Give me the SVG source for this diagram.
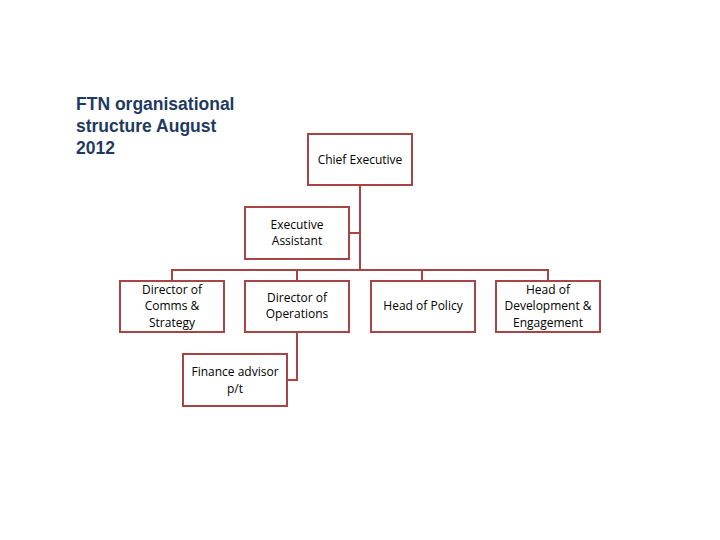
<svg xmlns="http://www.w3.org/2000/svg" width="720" height="540" viewBox="0 0 720 540">
<style>
.b{fill:#fff;stroke:#a94444;stroke-width:2}
.t{font-family:"Open Sans","Liberation Sans",sans-serif;font-size:12px;fill:#000;text-anchor:middle}
.c{fill:none;stroke:#a94444;stroke-width:2}
.h{font-family:"Liberation Sans",sans-serif;font-size:17.5px;font-weight:bold;fill:#1f3a60}
</style>
<rect width="720" height="540" fill="#fff"/>
<text class="h" x="76" y="110">FTN organisational</text>
<text class="h" x="76" y="132">structure August</text>
<text class="h" x="76" y="154">2012</text>
<g id="connectors">
<path class="c" d="M360 185V270M349 233H360M172 281V270H548V281M297 270V281M422 270V281M297 332V380H287"/>
</g>
<g id="ceo"><rect class="b" x="308" y="134" width="104" height="51"/><text class="t" x="360" y="164">Chief Executive</text></g>
<g id="ea"><rect class="b" x="245" y="207" width="104" height="52"/><text class="t" x="297" y="229">Executive</text><text class="t" x="297" y="245">Assistant</text></g>
<g id="comms"><rect class="b" x="120" y="281" width="104" height="51"/><text class="t" x="172" y="294">Director of</text><text class="t" x="172" y="310">Comms &amp;</text><text class="t" x="172" y="327">Strategy</text></g>
<g id="ops"><rect class="b" x="245" y="281" width="104" height="51"/><text class="t" x="297" y="302">Director of</text><text class="t" x="297" y="318">Operations</text></g>
<g id="policy"><rect class="b" x="371" y="281" width="104" height="51"/><text class="t" x="423" y="310">Head of Policy</text></g>
<g id="dev"><rect class="b" x="496" y="281" width="104" height="51"/><text class="t" x="548" y="294">Head of</text><text class="t" x="548" y="310">Development &amp;</text><text class="t" x="548" y="327">Engagement</text></g>
<g id="finance"><rect class="b" x="183" y="354" width="104" height="52"/><text class="t" x="235" y="376">Finance advisor</text><text class="t" x="235" y="393">p/t</text></g>
</svg>
